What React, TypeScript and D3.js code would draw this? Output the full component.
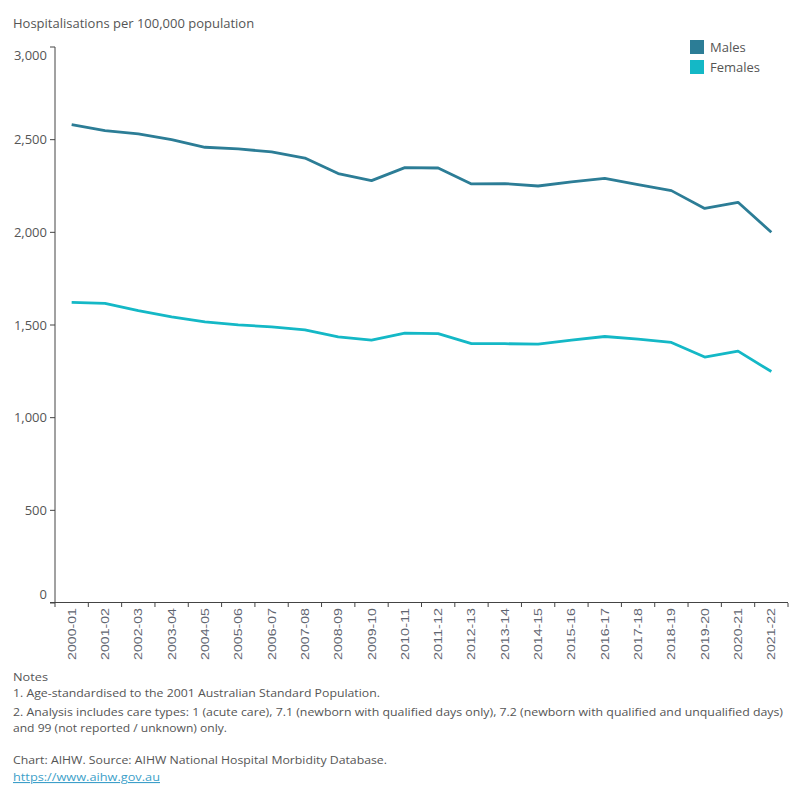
import React from 'react';
import * as d3 from 'd3';

const years = [
  '2000-01', '2001-02', '2002-03', '2003-04', '2004-05', '2005-06', '2006-07', '2007-08',
  '2008-09', '2009-10', '2010-11', '2011-12', '2012-13', '2013-14', '2014-15', '2015-16',
  '2016-17', '2017-18', '2018-19', '2019-20', '2020-21', '2021-22',
];
const males = [
  2581, 2549, 2531, 2500, 2459, 2450, 2434, 2401, 2317, 2279, 2349,
  2347, 2261, 2263, 2250, 2272, 2291, 2257, 2225, 2129, 2162, 2000,
];
const females = [
  1622, 1617, 1577, 1544, 1517, 1501, 1490, 1474, 1436, 1418, 1456,
  1453, 1400, 1399, 1397, 1418, 1438, 1424, 1406, 1327, 1359, 1249,
];
const yTicks = [0, 500, 1000, 1500, 2000, 2500, 3000];
const seriesNames = ['Males', 'Females'];
const seriesColors = ['#2c7d96', '#14b8c6'];

const notes = [
  { text: 'Notes', y: 681, w: 35 },
  { text: '1. Age-standardised to the 2001 Australian Standard Population.', y: 697, w: 367 },
  { text: '2. Analysis includes care types: 1 (acute care), 7.1 (newborn with qualified days only), 7.2 (newborn with qualified and unqualified days)', y: 716, w: 770 },
  { text: 'and 99 (not reported / unknown) only.', y: 732, w: 214 },
  { text: 'Chart: AIHW. Source: AIHW National Hospital Morbidity Database.', y: 764, w: 374 },
];

const font = '"Open Sans", "Noto Sans", sans-serif';
const textColor = '#555555';

export default function App() {
  // chart frame
  const left = 55, right = 788, top = 47, bottom = 603;

  const x = d3.scaleBand<string>().domain(years).range([left, right]);
  const y = d3.scaleLinear().domain([0, 3000]).range([bottom, top]);
  const fmt = d3.format(',');

  const line = d3.line<number>()
    .x((_, i) => x(years[i])! + x.bandwidth() / 2)
    .y(d => y(d));

  const boundaries = years.map(yr => x(yr)!).concat([right]);

  return (
    <svg width={800} height={800} style={{ position: 'absolute', left: 0, top: 0, background: '#fff' }}>
      {/* axis title */}
      <text x={13} y={28} fontFamily={font} fontSize={13} fill={textColor}>
        Hospitalisations per 100,000 population
      </text>

      {/* y axis */}
      <line x1={left} x2={left} y1={top} y2={bottom} stroke="#444" strokeWidth={1} />
      {yTicks.map(t => {
        let dy = 4.5;
        if (t === 3000) dy = 13;
        if (t === 0) dy = -4;
        return (
          <g key={t}>
            <line x1={left - 5} x2={left} y1={y(t)} y2={y(t)} stroke="#444" />
            <text x={47} y={y(t) + dy} textAnchor="end" fontFamily={font} fontSize={13} fill={textColor}>
              {fmt(t)}
            </text>
          </g>
        );
      })}

      {/* x axis */}
      <line x1={left - 5} x2={right} y1={bottom - 0.5} y2={bottom - 0.5} stroke="#444" />
      {boundaries.map((bx, i) => (
        <line key={i} x1={bx} x2={bx} y1={bottom} y2={bottom + 4} stroke="#444" />
      ))}
      {years.map(yr => {
        const cx = x(yr)! + x.bandwidth() / 2;
        return (
          <text
            key={yr}
            transform={`translate(${cx + 4},608) rotate(-90)`}
            textAnchor="end"
            fontFamily='"Liberation Sans", Arial, sans-serif'
            fontSize={11.5}
            textLength={52}
            lengthAdjust="spacingAndGlyphs"
            fill="#5f6570"
          >
            {yr}
          </text>
        );
      })}

      {/* lines */}
      {[males, females].map((vals, i) => (
        <path
          key={seriesNames[i]}
          d={line(vals)!}
          fill="none"
          stroke={seriesColors[i]}
          strokeWidth={2.8}
          strokeLinejoin="round"
        />
      ))}

      {/* legend */}
      {seriesNames.map((name, i) => (
        <g key={name} transform={`translate(690,${40 + i * 20})`}>
          <rect width={14} height={14} fill={seriesColors[i]} />
          <text x={20} y={11.5} fontFamily={font} fontSize={13} fill={textColor}>{name}</text>
        </g>
      ))}

      {/* notes */}
      {notes.map(n => (
        <text
          key={n.text}
          x={13}
          y={n.y}
          fontFamily={font}
          fontSize={11}
          fill={textColor}
          textLength={n.w}
          lengthAdjust="spacingAndGlyphs"
        >
          {n.text}
        </text>
      ))}
      <text
        x={13}
        y={781}
        fontFamily={font}
        fontSize={11}
        fill="#3d9fc9"
        textDecoration="underline"
        textLength={147}
        lengthAdjust="spacingAndGlyphs"
      >
        https://www.aihw.gov.au
      </text>
    </svg>
  );
}
